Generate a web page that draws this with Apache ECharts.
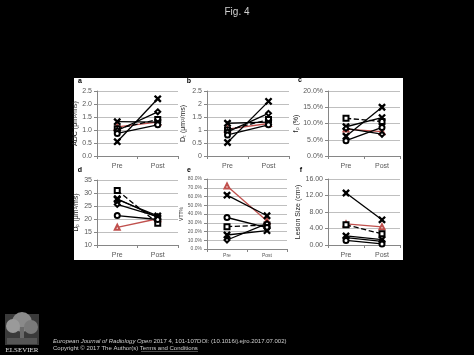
<!DOCTYPE html>
<html><head><meta charset="utf-8">
<script src="https://cdn.jsdelivr.net/npm/echarts@6/dist/echarts.min.js"></script>
<style>html,body{margin:0;padding:0;background:#000}#c{width:474px;height:355px}</style>
</head><body><div id="c"></div>
<script>
const categories = ['Pre', 'Post'];
const patients = ['square', 'cross1', 'diamond', 'circle', 'triangle', 'cross2'];
// values per patient, [Pre, Post]
const adcValues = [[1.05, 1.40], [1.32, 1.30], [0.98, 1.70], [0.87, 1.20], [1.12, 1.30], [0.55, 2.20]];
const dtValues = [[1.00, 1.40], [1.26, 1.30], [0.93, 1.64], [0.81, 1.20], [1.03, 1.25], [0.52, 2.10]];
const fpValues = [[11.6, 10.6], [9.0, 11.8], [8.5, 6.7], [4.7, 8.8], [8.3, 7.5], [6.1, 15.0]];
const dpValues = [[31.0, 18.4], [27.8, 20.6], [25.6, 20.9], [21.3, 19.8], [16.8, 20.1], [27.5, 21.2]];
const vttValues = [[25.5, 27.4], [61.5, 38.0], [10.3, 29.0], [36.0, 24.5], [72.0, 32.0], [16.0, 21.0]];
const sizeValues = [[4.9, 2.7], [12.6, 6.1], [1.8, 0.9], [1.1, 0.25], [5.1, 4.4], [2.2, 1.3]];
const panelLetters = ['a', 'b', 'c', 'd', 'e', 'f'];
const yNames = ['ADC (μm²/ms)', 'Dₜ (μm²/ms)', 'fₚ (%)', 'Dₚ (μm²/ms)', 'VTT%', 'Lesion Size (cm³)'];

const panels = [
  {vals: adcValues, grid: {left: 97, top: 91, width: 81, height: 65}, min: 0, max: 2.5, interval: 0.5, fmt: v => v.toFixed(1), gap: 18, fs: 7},
  {vals: dtValues, grid: {left: 207, top: 91, width: 82, height: 65}, min: 0, max: 2.5, interval: 0.5, fmt: v => String(v), gap: 20, fs: 7},
  {vals: fpValues, grid: {left: 328, top: 91, width: 72, height: 65}, min: 0, max: 20, interval: 5, fmt: v => v.toFixed(1) + '%', gap: 24, fs: 7},
  {vals: dpValues, grid: {left: 97, top: 180, width: 81, height: 65}, min: 10, max: 35, interval: 5, fmt: v => String(v), gap: 17, fs: 7},
  {vals: vttValues, grid: {left: 207, top: 179, width: 80, height: 70}, min: 0, max: 80, interval: 10, fmt: v => v.toFixed(1) + '%', gap: 19, fs: 5},
  {vals: sizeValues, grid: {left: 328, top: 179, width: 72, height: 66}, min: 0, max: 16, interval: 4, fmt: v => v.toFixed(2), gap: 25, fs: 7}
];

const crossPath = 'path://M0,1.2 L1.2,0 L5,3.8 L8.8,0 L10,1.2 L6.2,5 L10,8.8 L8.8,10 L5,6.2 L1.2,10 L0,8.8 L3.8,5Z';
const symbolFor = {square: 'emptyRect', cross1: crossPath, diamond: 'emptyDiamond', circle: 'emptyCircle', triangle: 'emptyTriangle', cross2: crossPath};
const red = '#c0504d';

const grids = [], xAxes = [], yAxes = [], series = [];
panels.forEach((p, i) => {
  grids.push(Object.assign({containLabel: false}, p.grid));
  xAxes.push({
    type: 'category', gridIndex: i, data: categories, boundaryGap: true,
    axisLine: {lineStyle: {color: '#868686', width: 1}},
    axisTick: {show: true, length: 3, lineStyle: {color: '#868686'}},
    axisLabel: {fontSize: p.fs, color: '#595959', margin: p.fs === 5 ? 4 : 7}
  });
  yAxes.push({
    type: 'value', gridIndex: i, min: p.min, max: p.max, interval: p.interval,
    name: yNames[i], nameLocation: 'middle', nameGap: p.gap,
    nameTextStyle: {fontSize: p.fs === 5 ? 5 : 7, color: '#222'},
    axisLine: {show: true, lineStyle: {color: '#868686', width: 1}},
    axisTick: {show: true, length: 3, lineStyle: {color: '#868686'}},
    axisLabel: {fontSize: p.fs, color: '#595959', margin: 5, formatter: p.fmt},
    splitLine: {show: true, lineStyle: {color: '#bfbfbf', width: 1}}
  });
  patients.forEach((pt, k) => {
    const isRed = pt === 'triangle';
    const color = isRed ? red : '#000';
    series.push({
      type: 'line', xAxisIndex: i, yAxisIndex: i,
      data: p.vals[k],
      symbol: symbolFor[pt],
      symbolSize: pt.startsWith('cross') ? 6 : 5,
      lineStyle: {color: color, width: 1.3, type: pt === 'square' ? 'dashed' : 'solid'},
      itemStyle: {color: color, borderColor: color, borderWidth: 1.3},
      z: isRed ? 1 : 2,
      animation: false
    });
  });
});

const letterPos = [[80, 81], [189, 81], [300, 80], [80, 170], [189, 170], [301, 170]];
const graphic = [
  {type: 'rect', shape: {x: 74, y: 78, width: 329, height: 182}, style: {fill: '#fff'}, z: -10, silent: true},
  {type: 'text', x: 237, y: 12, style: {text: 'Fig. 4', fill: '#d0d0d0', fontSize: 10, fontFamily: 'Liberation Sans', textAlign: 'center', textVerticalAlign: 'middle'}},
  // Elsevier logo (approximation)
  {type: 'rect', shape: {x: 5, y: 314, width: 34, height: 31}, style: {fill: '#3a3a3a'}},
  {type: 'circle', shape: {cx: 22, cy: 322, r: 10}, style: {fill: '#8a8a8a'}},
  {type: 'circle', shape: {cx: 13, cy: 326, r: 7}, style: {fill: '#9a9a9a'}},
  {type: 'circle', shape: {cx: 31, cy: 327, r: 7}, style: {fill: '#7a7a7a'}},
  {type: 'rect', shape: {x: 20, y: 327, width: 4, height: 16}, style: {fill: '#6a6a6a'}},
  {type: 'rect', shape: {x: 7, y: 338, width: 30, height: 6}, style: {fill: '#555'}},
  {type: 'text', x: 22, y: 350, style: {text: 'ELSEVIER', fill: '#e0e0e0', fontSize: 7, fontFamily: 'Liberation Serif', textAlign: 'center', textVerticalAlign: 'middle'}},
  {type: 'text', x: 53, y: 341, style: {rich: {i: {fontStyle: 'italic', fontSize: 6, fill: '#cfcfcf', fontFamily: 'Liberation Sans'}, n: {fontSize: 6, fill: '#cfcfcf', fontFamily: 'Liberation Sans'}}, text: '{i|European Journal of Radiology Open}{n| 2017 4, 101-107DOI: (10.1016/j.ejro.2017.07.002)}', textVerticalAlign: 'middle'}},
  {type: 'text', x: 53, y: 348, style: {rich: {n: {fontSize: 6, fill: '#cfcfcf', fontFamily: 'Liberation Sans'}}, text: '{n|Copyright © 2017 The Author(s) Terms and Conditions}', textVerticalAlign: 'middle'}},
  {type: 'line', shape: {x1: 141, y1: 351.5, x2: 198, y2: 351.5}, style: {stroke: '#9a9a9a', lineWidth: 0.5}}
];
panelLetters.forEach((l, i) => {
  graphic.push({type: 'text', x: letterPos[i][0], y: letterPos[i][1], style: {text: l, fill: '#000', fontSize: 7, fontWeight: 'bold', fontFamily: 'Liberation Sans', textAlign: 'center', textVerticalAlign: 'middle'}});
});

const chart = echarts.init(document.getElementById('c'), null, {renderer: 'canvas'});
chart.setOption({
  backgroundColor: '#000',
  animation: false,
  textStyle: {fontFamily: 'Liberation Sans'},
  grid: grids, xAxis: xAxes, yAxis: yAxes, series: series, graphic: graphic
});
</script></body></html>
